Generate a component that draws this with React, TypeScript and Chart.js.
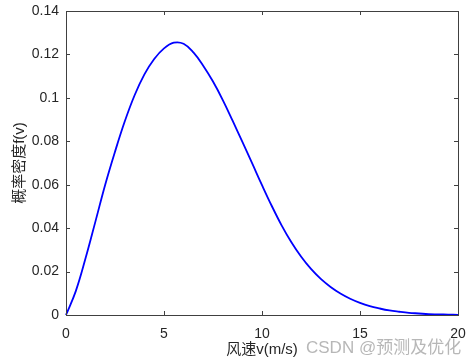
import React, { useEffect, useRef } from "react";
import { Chart, registerables } from "chart.js";

Chart.register(...registerables);

const windSpeed = [0, 0.5, 1, 1.5, 2, 2.5, 3, 3.5, 4, 4.5, 5, 5.5, 6, 6.5, 7, 7.5, 8, 8.5, 9, 9.5, 10, 10.5, 11, 11.5, 12, 12.5, 13, 13.5, 14, 14.5, 15, 15.5, 16, 16.5, 17, 17.5, 18, 18.5, 19, 19.5, 20];
const density = [0, 0.011, 0.0262, 0.043, 0.06, 0.0752, 0.0892, 0.1012, 0.1108, 0.1179, 0.1228, 0.1254, 0.1249, 0.1209, 0.1148, 0.1075, 0.099, 0.0895, 0.0797, 0.0698, 0.0598, 0.0502, 0.0413, 0.0335, 0.0268, 0.0212, 0.0166, 0.0129, 0.0099, 0.0075, 0.0056, 0.0041, 0.003, 0.0021, 0.0015, 0.001, 0.0007, 0.0004, 0.0003, 0.0002, 0.0001];
const xTicks = [0, 5, 10, 15, 20];
const yTicks = [0, 0.02, 0.04, 0.06, 0.08, 0.1, 0.12, 0.14];

const AXIS_COLOR = "#404040";
const TEXT_COLOR = "#262626";

const boxPlugin = {
  id: "boxTicks",
  afterDraw(chart: any) {
    const { ctx, chartArea: a, scales } = chart;
    const xs = scales.x;
    const ys = scales.y;
    const len = 4;
    ctx.save();
    ctx.strokeStyle = AXIS_COLOR;
    ctx.lineWidth = 1;
    ctx.strokeRect(Math.round(a.left) + 0.5, Math.round(a.top) + 0.5, Math.round(a.right - a.left), Math.round(a.bottom - a.top));
    ctx.beginPath();
    xTicks.forEach((t) => {
      const px = Math.round(xs.getPixelForValue(t)) + 0.5;
      ctx.moveTo(px, a.bottom);
      ctx.lineTo(px, a.bottom - len);
      ctx.moveTo(px, a.top);
      ctx.lineTo(px, a.top + len);
    });
    yTicks.forEach((t) => {
      const py = Math.round(ys.getPixelForValue(t)) + 0.5;
      ctx.moveTo(a.left, py);
      ctx.lineTo(a.left + len, py);
      ctx.moveTo(a.right, py);
      ctx.lineTo(a.right - len, py);
    });
    ctx.stroke();
    ctx.restore();
  },
};

export default function App() {
  const ref = useRef<HTMLCanvasElement>(null);
  useEffect(() => {
    if (!ref.current) return;
    const chart = new Chart(ref.current, {
      type: "line",
      data: {
        datasets: [
          {
            data: windSpeed.map((v, i) => ({ x: v, y: density[i] })),
            borderColor: "#0000ff",
            borderWidth: 1.8,
            pointRadius: 0,
            tension: 0.4,
            fill: false,
            clip: false as any,
          },
        ],
      },
      options: {
        animation: false,
        responsive: true,
        maintainAspectRatio: false,
        layout: { padding: { left: 0, right: 16, top: 11, bottom: 0 } },
        plugins: { legend: { display: false }, tooltip: { enabled: false } },
        scales: {
          x: {
            type: "linear",
            min: 0,
            max: 20,
            afterBuildTicks: (s: any) => {
              s.ticks = xTicks.map((v) => ({ value: v }));
            },
            afterFit: (s: any) => {
              s.height = 46;
              s.paddingLeft = 0;
              s.paddingRight = 0;
            },
            ticks: {
              color: TEXT_COLOR,
              font: { family: "'Liberation Sans', Arial, sans-serif", size: 14 },
              padding: 11,
              maxRotation: 0,
              callback: (v: any) => String(v),
            },
            grid: { display: false, drawTicks: false },
            border: { display: false },
            title: {
              display: true,
              text: "风速v(m/s)",
              color: TEXT_COLOR,
              font: { family: "'Liberation Sans', 'Noto Sans CJK SC', sans-serif", size: 15 },
              padding: { top: 0, bottom: 2 },
            },
          },
          y: {
            type: "linear",
            min: 0,
            max: 0.14,
            afterBuildTicks: (s: any) => {
              s.ticks = yTicks.map((v) => ({ value: v }));
            },
            afterFit: (s: any) => {
              s.width = 66;
              s.paddingTop = 0;
              s.paddingBottom = 0;
            },
            ticks: {
              color: TEXT_COLOR,
              font: { family: "'Liberation Sans', Arial, sans-serif", size: 14 },
              padding: 7,
              callback: (v: any) => String(Number(Number(v).toFixed(2))),
            },
            grid: { display: false, drawTicks: false },
            border: { display: false },
            title: {
              display: true,
              text: "概率密度f(v)",
              color: TEXT_COLOR,
              font: { family: "'Liberation Sans', 'Noto Sans CJK SC', sans-serif", size: 15 },
              padding: { top: 11, bottom: 0 },
            },
          },
        },
      },
      plugins: [boxPlugin],
    });
    return () => chart.destroy();
  }, []);

  return (
    <div style={{ position: "absolute", left: 0, top: 0, width: 474, height: 361, background: "#fff" }}>
      <canvas ref={ref} />
      <span
        style={{
          position: "absolute",
          left: 306,
          top: 333,
          fontSize: 17,
          fontFamily: "'Liberation Sans', 'Noto Sans CJK SC', sans-serif",
          color: "rgba(170,170,170,0.85)",
          whiteSpace: "nowrap",
          pointerEvents: "none",
        }}
      >
        CSDN @预测及优化
      </span>
    </div>
  );
}
